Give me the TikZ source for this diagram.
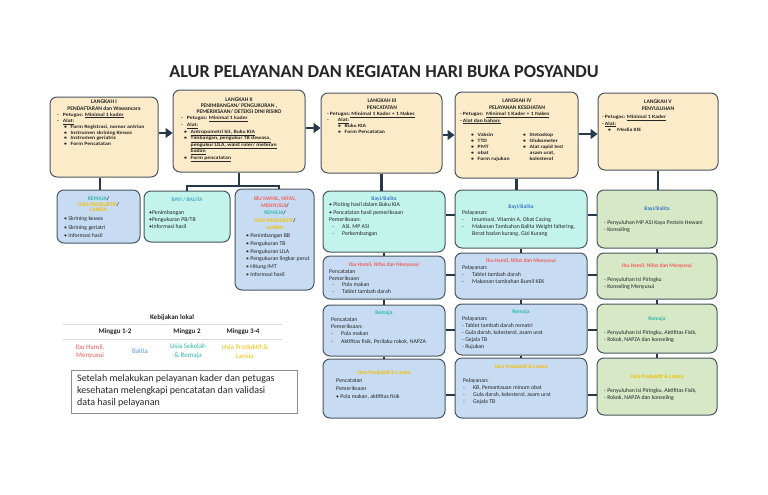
\documentclass[tikz,border=0pt]{standalone}
\usepackage{fontspec}
\setmainfont{Carlito}
\newfontfamily\widefont[FakeStretch=1.17]{Carlito}
\usetikzlibrary{arrows.meta}
\definecolor{beige}{HTML}{FCEBC8}
\definecolor{lblue}{HTML}{C7DCF3}
\definecolor{aqua}{HTML}{C2F4EC}
\definecolor{lgreen}{HTML}{D6E8C6}
\definecolor{bordc}{HTML}{4A5560}
\definecolor{connc}{HTML}{27384A}
\definecolor{txtc}{HTML}{262626}
\definecolor{tealT}{HTML}{2EB8A8}
\definecolor{yelT}{HTML}{F2BE00}
\definecolor{redT}{HTML}{F0605D}
\definecolor{blueT}{HTML}{3C78C8}
\definecolor{bayiT}{HTML}{4AA8C8}
\definecolor{balT}{HTML}{5B9BD5}
\newcommand\bl{\makebox[6.5pt][l]{\textbullet}}
\newcommand\dsh{\makebox[10pt][l]{-}}
\newcommand\bx[6]{\node[boxst, fill=#6, minimum width={(#4-#2)*1pt}, minimum height={(#5-#3)*1pt}] (#1) at ({(#2+#4)/2},{(#3+#5)/2}) {};}
\tikzset{
 boxst/.style={draw=bordc, line width=1pt, rounded corners=7pt, inner sep=0pt},
 conn/.style={draw=connc, line width=2.5pt},
 arr/.style={conn, -{Triangle[length=7pt,width=10pt]}},
 body/.style={anchor=north west, inner sep=0pt, align=left, text=txtc, font={\fontsize{5.8}{#1}\selectfont}},
 body/.default=7,
 topb/.style={anchor=north west, inner sep=0pt, align=left, text=txtc, font={\widefont\bfseries\fontsize{4.9}{#1}\selectfont}},
 topb/.default=5.5,
 tl/.style={inner sep=0pt, text=txtc, font={\bfseries\fontsize{5.6}{6}\selectfont}},
 ct/.style={inner sep=0pt, font={\bfseries\fontsize{5.5}{6}\selectfont}},
 hd/.style={inner sep=0pt, text=txtc, font={\bfseries\fontsize{7}{8}\selectfont}},
 rw/.style={inner sep=0pt, align=center, font={\fontsize{7}{8.7}\selectfont}},
}
\begin{document}
\begin{tikzpicture}[x=1pt,y=-1pt]
\fill[white] (0,0) rectangle (768,495);
\useasboundingbox (0,0) rectangle (768,495);

\node[inner sep=0pt, text=txtc, font={\bfseries\fontsize{18.2}{20}\selectfont}] (title) at (384,72) {ALUR PELAYANAN DAN KEGIATAN HARI BUKA POSYANDU};

% ---------- top row ----------
\bx{s1}{50}{97}{158}{177}{beige}
\node[tl] (s1a) at (104,101.5) {LANGKAH I};
\node[tl] (s1b) at (104,108.5) {PENDAFTARAN dan Wawancara};
\node[topb=5.4] (s1c) at (57,112.4) {-\hspace{4pt}Petugas: \underline{Minimal 1 kader}\\
-\hspace{4pt}\underline{Alat:}\\
\hspace{7pt}\bl Form Registrasi, nomor antrian\\
\hspace{7pt}\bl Instrumen skrining Keswa\\
\hspace{7pt}\bl Instrumen geriatric\\
\hspace{7pt}\bl Form Pencatatan};

\bx{s2}{173}{90}{305}{172}{beige}
\node[tl] (s2a) at (239,100) {LANGKAH II};
\node[tl] (s2b) at (239,106) {PENIMBANGAN/ PENGUKURAN ,};
\node[tl] (s2c) at (239,112) {PEMERIKSAAN/ DETEKSI DINI RISIKO};
\node[topb=6.6] (s2d) at (181,116.2) {-\hspace{4pt}Petugas: \underline{Minimal 1 kader}\\
-\hspace{4pt}\underline{Alat:}\\
\hspace{3pt}\bl\underline{Antropometri kit, Buku KIA}\\
\hspace{3pt}\bl\underline{Timbangan, pengukur TB dewasa,}\\
\hspace{9.5pt}\underline{pengukur LILA, waist ruler/ meteran}\\
\hspace{9.5pt}\underline{badan}\\
\hspace{3pt}\bl\underline{Form pencatatan}};

\bx{s3}{321}{93}{442}{173}{beige}
\node[tl] (s3a) at (382,101) {LANGKAH III};
\node[tl] (s3b) at (382,107.5) {PENCATATAN};
\node[topb=5.8] (s3c) at (327,112.3) {-\hspace{1pt}Petugas:\underline{\ Minimal 1 Kader + 1 Nakes}\\
-\hspace{9pt}\underline{Alat:}\\
\hspace{11pt}\bl Buku KIA\\
\hspace{11pt}\bl Form Pencatatan};

\bx{s4}{455}{92}{578}{178}{beige}
\node[tl] (s4a) at (517,101) {LANGKAH IV};
\node[tl] (s4b) at (517,108) {PELAYANAN KESEHATAN};
\node[topb=6.2] (s4c) at (460,112.2) {-\hspace{1pt}Petugas:\hspace{3pt}\underline{Minimal 1 Kader + 1 Nakes}\\
-\hspace{1pt}\underline{Alat dan bahan:}};
\node[topb=6] (s4d) at (471,133) {\bl Vaksin\\\bl TTD\\\bl PMT\\\bl obat\\\bl Form rujukan};
\node[topb=6] (s4e) at (523,133) {\bl Stetoskop\\\bl Glukometer\\\bl Alat rapid test\\\hspace{6.5pt}asam urat,\\\hspace{6.5pt}kolesterol};

\bx{s5}{598}{93}{718}{170}{beige}
\node[tl] (s5a) at (658,102) {LANGKAH V};
\node[tl] (s5b) at (658,109) {PENYULUHAN};
\node[topb=6.4] (s5c) at (602,115) {-\hspace{1pt}Petugas: \underline{Minimal 1 Kader}\\
-\hspace{1pt}\underline{Alat:}\\
\hspace{6pt}\makebox[9pt][l]{\textbullet}Media KIE};

% ---------- second row, columns 1-2 ----------
\bx{r1}{57}{190}{140}{243}{lblue}
\node[ct, text=tealT] (r1a) at (98.5,199) {REMAJA\textcolor{txtc}{/}};
\node[ct, text=yelT] (r1b) at (98.5,204.5) {USIA PRODUKTIF\textcolor{txtc}{/}};
\node[ct, text=yelT] (r1c) at (98.5,210) {LANSIA};
\node[body=8.5] (r1d) at (64,216.6) {\textbullet\ Skrining keswa\\\textbullet\ Skrining geriatri\\\textbullet\ Informasi hasil};

\bx{b2}{144}{191}{230}{242}{aqua}
\node[ct, text=bayiT] (b2a) at (187,200) {BAYI / BALITA};
\node[body=7] (b2b) at (149,210.6) {\textbullet Penimbangan\\\textbullet Pengukuran PB/TB\\\textbullet Informasi hasil};

\bx{i2}{235}{189}{314}{290}{lblue}
\node[ct, text=redT] (i2a) at (275,199) {IBU HAMIL, NIFAS,};
\node[ct, text=redT] (i2b) at (275,206) {MENYUSUI\textcolor{txtc}{/}};
\node[ct, text=tealT] (i2c) at (275,213) {REMAJA\textcolor{txtc}{/}};
\node[ct, text=yelT] (i2d) at (275,220.5) {USIA PRODUKTIF\textcolor{txtc}{/}};
\node[ct, text=yelT] (i2e) at (275,227.5) {LANSIA};
\node[body=7.8] (i2f) at (246,233.3) {\textbullet\ Penimbangan BB\\\textbullet\ Pengukuran TB\\\textbullet\ Pengukuran LILA\\\textbullet\ Pengukuran lingkar perut\\\textbullet\ Hitung IMT\\\textbullet\ Informasi hasil};

% ---------- column 3 ----------
\bx{c3a}{323}{191}{445}{252}{aqua}
\node[ct, text=blueT] (c3at) at (384,199) {Bayi/Balita};
\node[body=7.2] (c3ab) at (329,202.6) {\textbullet\ Ploting hasil dalam Buku KIA\\\textbullet\ Pencatatan hasil pemeriksaan\\Pemeriksaan:\\\hspace{3pt}\dsh ASI, MP ASI\\\hspace{3pt}\dsh Perkembangan};
\bx{c3b}{323}{256}{445}{299}{lblue}
\node[ct, text=redT] (c3bt) at (384,265) {Ibu Hamil, Nifas dan Menyusui};
\node[body=6.7] (c3bb) at (329,269.6) {Pencatatan\\Pemeriksaan\\\hspace{3pt}\dsh Pola makan\\\hspace{3pt}\dsh Tablet tambah darah};
\bx{c3c}{323}{305}{445}{356}{lblue}
\node[ct, text=tealT] (c3ct) at (384,313) {Remaja};
\node[body=7.2] (c3cb) at (331,317.6) {Pencatatan\\Pemeriksaan:\\\dsh Pola makan\\\dsh Aktifitas fisik, Perilaku rokok, NAPZA};
\bx{c3d}{323}{359}{445}{418}{lblue}
\node[ct, text=yelT] (c3dt) at (384,373) {Usia Produktif \& Lansia};
\node[body=8] (c3db) at (336,378.6) {Pencatatan\\Pemeriksaan\\\textbullet\ Pola makan, aktifitas fisik};

% ---------- column 4 ----------
\bx{c4a}{455}{190}{587}{248}{aqua}
\node[ct, text=blueT] (c4at) at (521,207) {Bayi/Balita};
\node[body=7] (c4ab) at (462,210.6) {Pelayanan:\\\dsh Imunisasi, Vitamin A, Obat Cacing\\\dsh Makanan Tambahan Balita Weight faltering,\\\hspace{10pt}Berat badan kurang, Gizi Kurang};
\bx{c4b}{455}{253}{587}{299}{lblue}
\node[ct, text=redT] (c4bt) at (521,261) {Ibu Hamil, Nifas dan Menyusui};
\node[body=7] (c4bb) at (462,265.6) {Pelayanan:\\\dsh Tablet tambah darah\\\dsh Makanan tambahan Bumil KEK};
\bx{c4c}{455}{304}{587}{355}{lblue}
\node[ct, text=tealT] (c4ct) at (521,312) {Remaja};
\node[body=7] (c4cb) at (462,316.6) {Pelayanan:\\- Tablet tambah darah rematri\\- Gula darah, kolesterol, asam urat\\- Gejala TB\\- Rujukan};
\bx{c4d}{455}{358}{587}{418}{lblue}
\node[ct, text=yelT] (c4dt) at (521,367) {Usia Produktif \& Lansia};
\node[body=7] (c4db) at (463,378.6) {Pelayanan:\\\dsh KB, Pemantauan minum obat\\\dsh Gula darah, kolesterol, asam urat\\\dsh Gejala TB};

% ---------- column 5 ----------
\bx{c5a}{597}{190}{717}{248}{lgreen}
\node[ct, text=blueT] (c5at) at (657,209) {Bayi/Balita};
\node[body=7] (c5ab) at (604,220.6) {- Penyuluhan MP ASI Kaya Protein Hewani\\- Konseling};
\bx{c5b}{597}{253}{717}{299}{lgreen}
\node[ct, text=redT] (c5bt) at (657,266) {Ibu Hamil, Nifas dan Menyusui};
\node[body=7] (c5bb) at (604,277.6) {- Penyuluhan Isi Piringku\\- Konseling Menyusui};
\bx{c5c}{597}{304}{717}{353}{lgreen}
\node[ct, text=tealT] (c5ct) at (657,319) {Remaja};
\node[body=7] (c5cb) at (604,330.6) {- Penyuluhan Isi Piringku, Aktifitas Fisik,\\- Rokok, NAPZA dan konseling};
\bx{c5d}{597}{358}{717}{415}{lgreen}
\node[ct, text=yelT] (c5dt) at (657,377) {Usia Produktif \& Lansia};
\node[body=7] (c5db) at (604,388.6) {- Penyuluhan Isi Piringku, Aktifitas Fisik,\\- Rokok, NAPZA dan konseling};

% ---------- connectors ----------
\coordinate (a12) at (0,133);
\coordinate (a23) at (0,128);
\coordinate (a34) at (0,135);
\coordinate (a45) at (0,134);
\draw[arr] (s1.east |- a12) -- (s2.west |- a12);
\draw[arr] (s2.east |- a23) -- (s3.west |- a23);
\draw[arr] (s3.east |- a34) -- (s4.west |- a34);
\draw[arr] (s4.east |- a45) -- (s5.west |- a45);

\coordinate (v1) at (100,0);
\draw[conn] (s1.south -| v1) -- (r1.north -| v1);
\coordinate (j2) at (239,186);
\coordinate (k2) at (279,186);
\draw[conn] (s2.south) -- (j2);
\draw[conn] (b2.north) |- (k2) -- (i2.north -| k2);

\draw[conn] (s3.south) -- (s3.south |- c3a.north);
\draw[conn] (c3a.south) -- (c3b.north);
\draw[conn] (c3b.south) -- (c3c.north);
\draw[conn] (c3c.south) -- (c3d.north);
\draw[conn] (s4.south) -- (s4.south |- c4a.north);
\draw[conn] (c4a.south) -- (c4b.north);
\draw[conn] (c4b.south) -- (c4c.north);
\draw[conn] (c4c.south) -- (c4d.north);
\draw[conn] (s5.south) -- (s5.south |- c5a.north);
\draw[conn] (c5a.south) -- (c5b.north);
\draw[conn] (c5b.south) -- (c5c.north);
\draw[conn] (c5c.south) -- (c5d.north);

\coordinate (ha) at (0,215);
\coordinate (hb) at (0,275);
\coordinate (hc) at (0,330);
\coordinate (hd) at (0,395);
\draw[conn] (c3a.east |- ha) -- (c4a.west |- ha);
\draw[conn] (c3b.east |- hb) -- (c4b.west |- hb);
\draw[conn] (c3c.east |- hc) -- (c4c.west |- hc);
\draw[conn] (c3d.east |- hd) -- (c4d.west |- hd);
\draw[conn] (c4a.east |- ha) -- (c5a.west |- ha);
\draw[conn] (c4b.east |- hb) -- (c5b.west |- hb);
\draw[conn] (c4c.east |- hc) -- (c5c.west |- hc);
\draw[conn] (c4d.east |- hd) -- (c5d.west |- hd);

% ---------- Kebijakan lokal ----------
\node[hd] (kl) at (172,318) {Kebijakan lokal};
\draw[black!15, line width=0.6pt] (63,324) -- (282,324);
\node[hd] (m12) at (115,332) {Minggu 1-2};
\node[hd] (m2) at (187,332) {Minggu 2};
\node[hd] (m34) at (243,332) {Minggu 3-4};
\draw[black!15, line width=0.6pt] (63,339) -- (282,339);
\node[rw, text=redT] (k1) at (90,351.5) {Ibu Hamil,\\Menyusui};
\node[rw, text=balT] (k2b) at (140,351.5) {Balita};
\node[rw, text=tealT] (k3) at (188,351.5) {Usia Sekolah\\\& Remaja};
\node[rw, text=yelT] (k4) at (245,351.5) {Usia Produktif \&\\Lansia};

\node[draw=black!45, line width=0.8pt, minimum width=226pt, minimum height=43pt, inner sep=0pt, anchor=north west] (note) at (71,370) {};
\node[anchor=north west, inner sep=0pt, align=left, text=txtc, font={\fontsize{10}{12.3}\selectfont}] (notet) at (77,374) {Setelah melakukan pelayanan kader dan petugas\\kesehatan melengkapi pencatatan dan validasi\\data hasil pelayanan};
\end{tikzpicture}
\end{document}
